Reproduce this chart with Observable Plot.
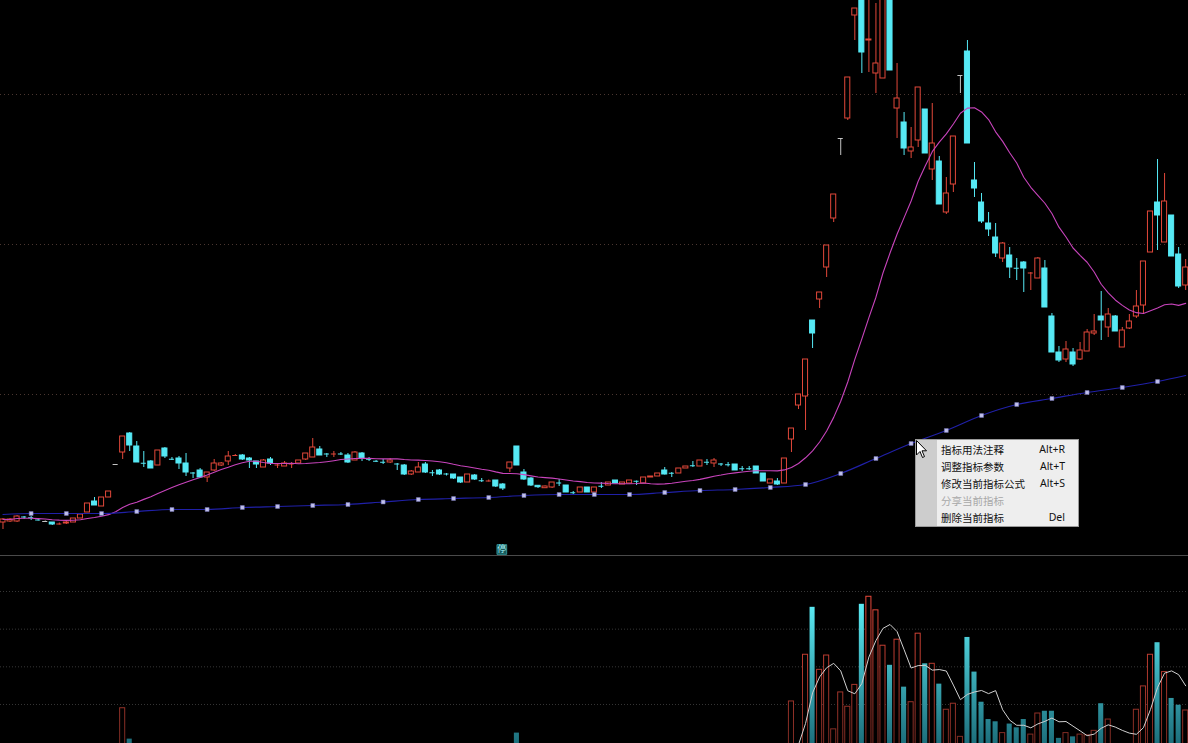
<!DOCTYPE html>
<html><head><meta charset="utf-8">
<script src="https://cdn.jsdelivr.net/npm/d3@7"></script>
<script src="https://cdn.jsdelivr.net/npm/@observablehq/plot@0.6"></script>
<style>
html,body{margin:0;padding:0;background:#000;overflow:hidden;}
#wrap{position:relative;width:1188px;height:743px;background:#000;}
#price svg,#vol svg{display:block;}
#vol{border-top:1px solid #4a4a4a;}
#menu{position:absolute;left:915px;top:439px;width:164px;height:88px;background:#eeeeee;border:1px solid #9a9a9a;box-sizing:border-box;font-family:"Noto Sans CJK SC","Noto Sans",sans-serif;font-size:10.5px;color:#111;padding-top:1px;}
#menu .strip{position:absolute;left:0;top:0;width:21px;height:100%;background:#cdcdcd;}
#menu .row{position:relative;height:17px;line-height:17px;padding-left:25px;padding-right:13px;}
#menu .row .k{position:absolute;right:13px;top:0;font-family:"Noto Sans",sans-serif;}
#menu .row.dis{color:#a8a8a8;}
#cursor{position:absolute;left:916px;top:440px;}
</style></head>
<body><div id="wrap"><div id="price"></div><div id="vol"></div><div id="menu"><div class="strip"></div></div>
<svg id="cursor" width="14" height="20"><path d="M0.5,0.5 L0.5,15 L4,11.5 L6.5,17.5 L8.5,16.6 L6,10.8 L10.5,10.8 Z" fill="#fff" stroke="#000" stroke-width="1"/></svg>
</div>
<script>
// ---- price data (one candle per trading day, index 0..168) ----
const open  = [5.2,5.3,5.3,5.8,5.7,5.5,5.3,5.2,5.0,5.1,5.2,5.6,6.2,7.3,6.8,7.7,11.0,12.2,14.1,12.8,
11.15,11.3,10.9,12.6,11.55,11.6,11.1,10.2,10.4,9.7,10.4,10.9,11.3,11.85,11.9,11.6,11.3,10.7,11.5,10.9,
10.8,11.0,11.1,11.5,11.7,12.5,12.1,12.0,12.1,11.9,11.4,12.1,11.55,11.35,11.25,11.2,11.1,10.9,10.0,10.2,
11.0,10.2,10.4,10.1,10.0,9.7,9.2,9.9,9.4,9.3,9.4,9.0,10.6,12.8,10.2,9.6,8.87,8.63,8.7,9.2,
8.9,8.2,8.2,8.7,8.2,8.85,8.9,9.4,9.0,9.1,9.35,9.1,9.7,9.8,10.4,10.15,10.1,10.6,10.9,10.8,
11.25,11.1,11.1,11.0,11.0,10.6,10.6,10.8,10.1,9.1,9.3,9.1,13.5,16.9,17.8,25.4,27.5,30.7,35.6,43.6,
45.6,55.9,60.0,53.4,50.1,49.6,60.0,46.6,45.2,42.3,43.4,46.5,40.5,41.3,36.2,39.0,49.9,52.3,39.4,37.2,
35.1,33.7,31.6,31.9,30.65,31.2,30.1,29.6,30.6,25.8,22.2,21.5,22.2,21.5,22.3,24.1,25.8,24.7,25.8,22.7,
24.6,25.8,26.9,32.2,37.2,33.2,35.9,32.0,28.9];
const high  = [5.6,5.6,5.9,5.8,5.8,5.55,5.35,5.2,5.15,5.3,5.6,6.0,7.1,7.7,7.7,8.3,11.0,13.8,14.2,13.3,
12.3,11.4,12.4,12.7,11.7,11.8,12.1,10.2,10.6,10.2,11.5,11.2,12.3,12.0,12.0,11.7,11.3,11.5,11.7,11.1,
11.3,11.2,11.4,12.1,13.6,12.8,12.1,12.3,12.2,12.1,12.3,12.2,11.7,11.4,11.5,11.6,11.1,11.0,10.4,11.2,
11.2,10.4,10.5,10.1,10.0,9.7,10.0,10.0,9.6,9.45,9.4,9.1,11.2,12.8,10.5,9.7,8.9,8.85,9.2,9.5,
8.9,8.3,8.7,8.7,8.7,9.2,9.2,9.4,9.2,9.4,9.35,9.7,9.8,10.1,10.7,10.2,10.6,10.8,11.3,11.4,
11.5,11.6,11.1,11.2,11.0,10.8,10.8,10.8,10.1,9.5,9.6,11.6,14.6,18.0,21.5,25.4,28.2,32.9,38.0,43.6,
49.7,56.6,61.0,60.0,57.1,60.5,61.0,51.1,46.2,44.7,48.7,46.5,47.1,41.8,39.7,43.8,49.9,53.4,41.2,38.1,
36.2,35.1,33.2,32.7,31.6,31.3,30.2,31.7,31.4,26.1,22.8,23.3,22.6,23.2,24.5,26.0,28.3,26.6,25.9,24.7,
26.0,28.4,31.3,36.3,41.5,40.1,35.9,32.7,31.5];
const low   = [4.5,5.2,5.2,5.5,5.4,5.35,5.25,4.9,4.95,5.0,5.2,5.6,6.2,6.9,6.8,7.7,11.0,11.5,12.3,11.2,
10.7,10.6,10.9,11.6,11.4,10.5,9.8,9.6,9.6,9.2,10.3,10.8,10.9,11.8,11.4,10.6,10.6,10.7,10.9,10.6,
10.8,10.6,11.1,11.4,11.7,11.9,11.7,11.7,11.9,11.1,11.4,11.3,11.3,11.2,11.0,11.1,10.4,9.9,9.9,10.2,
10.1,9.8,9.9,9.85,9.5,9.1,9.2,9.4,9.2,9.25,8.7,8.4,10.2,10.9,9.4,8.8,8.6,8.6,8.6,8.8,
8.2,8.0,8.2,8.2,8.2,8.6,8.9,9.1,9.0,9.1,8.9,9.1,9.7,9.8,9.95,9.7,10.1,10.6,10.7,10.8,
10.9,10.7,10.8,10.75,10.4,10.3,10.4,10.1,9.3,9.1,8.9,9.1,12.2,16.5,14.4,22.6,26.6,29.7,35.2,41.9,
45.4,53.4,50.1,50.2,48.1,49.6,50.4,43.6,41.9,41.6,42.7,42.1,39.4,37.0,36.0,38.2,48.1,43.1,37.7,35.1,
33.8,31.7,31.2,29.6,29.4,28.2,28.4,29.6,26.7,22.2,21.2,21.2,20.8,21.4,22.3,23.9,23.4,23.7,24.3,22.7,
24.5,25.6,26.1,32.2,32.4,33.2,31.8,28.6,28.4];
const close = [5.5,5.5,5.8,5.7,5.65,5.4,5.3,5.0,5.1,5.2,5.6,6.0,7.1,6.9,7.7,8.3,11.0,13.8,12.9,11.2,
11.1,10.6,12.4,11.8,11.5,11.1,10.2,10.1,9.7,10.2,11.1,11.1,11.8,11.95,11.5,11.4,11.0,11.4,11.1,11.0,
11.1,11.1,11.4,12.1,12.7,11.9,12.0,12.1,12.0,11.2,12.2,11.6,11.5,11.3,11.2,11.4,11.0,10.0,10.3,10.7,
10.2,10.15,10.0,10.0,9.6,9.2,10.0,9.5,9.35,9.4,8.8,8.6,11.2,10.9,9.5,8.9,8.73,8.8,9.2,9.1,
8.2,8.15,8.7,8.2,8.7,8.8,9.2,9.1,9.2,9.4,9.3,9.7,9.8,10.1,10.0,10.1,10.6,10.8,10.85,11.4,
11.2,11.4,11.0,10.95,10.4,10.55,10.55,10.1,9.3,9.5,9.0,11.6,14.6,18.0,21.5,24.1,28.2,32.9,38.0,43.6,
49.7,56.6,52.2,53.5,51.1,59.0,50.4,47.6,42.6,42.7,48.7,42.1,43.1,37.0,38.1,43.8,49.9,43.1,38.6,35.3,
34.5,32.1,33.1,30.7,30.6,30.6,30.2,31.6,26.7,22.2,21.4,22.5,21.0,22.4,24.2,24.3,25.4,26.0,24.3,24.4,
25.3,26.8,31.3,36.3,35.9,37.3,31.8,28.8,30.7];
const volume = [28,25,30,26,24,22,20,24,22,25,30,34,40,38,20,22,18,95,54,30,
25,22,30,28,22,26,32,20,24,26,30,22,28,18,20,22,20,24,22,18,
20,18,20,26,34,28,20,18,16,24,26,22,16,14,15,16,18,22,18,20,
22,16,18,15,18,20,22,18,15,14,20,22,38,62,40,30,20,16,20,22,
24,16,20,18,20,18,16,15,16,18,16,22,18,20,24,18,22,20,24,26,
22,24,18,16,22,18,16,22,28,24,26,40,104,38,166,229,146,165,67,116,
97,126,233,243,225,178,152,186,123,103,194,154,154,127,93,101,57,189,143,103,
80,77,62,74,69,80,60,88,91,91,55,62,57,60,59,65,101,80,45,37,
47,93,124,166,182,143,108,99,92];
// long moving average (blue), read at its marker days
const longMaDay = [0,4,9,14,19,24,29,34,39,44,49,54,59,64,69,74,79,84,89,94,99,104,109,114,119,124,129,134,139,144,149,154,159,164,168];
const longMaVal = [6.0,6.1,6.1,6.1,6.3,6.5,6.5,6.7,6.8,6.9,7.0,7.25,7.5,7.6,7.7,7.9,8.0,8.0,8.0,8.2,8.4,8.5,8.7,9.0,10.1,11.6,13.1,14.4,15.9,17.0,17.6,18.2,18.7,19.3,19.9];
const priceGrid = [18, 33, 48];
const volGrid = [100, 150, 200, 250];
const haltDays = [71];
const haltText = ["停"];
const menuLabels = ["指标用法注释","调整指标参数","修改当前指标公式","分享当前指标","删除当前指标"];
const menuKeys = ["Alt+R","Alt+T","Alt+S","","Del"];
const menuDisabled = [false,false,false,true,false];

// ---- build ----
const UP = "#e2483a", DOWN = "#56e9f5", FLAT = "#c4c4c4";
const candles = d3.range(open.length).map(i => ({i, o: open[i], h: high[i], l: low[i], c: close[i], v: volume[i]}));
const dirOf = d => Math.abs(d.c - d.o) < 0.001 ? "flat" : (d.c > d.o ? "up" : "down");
const col = d => ({up: UP, down: DOWN, flat: FLAT})[dirOf(d)];
const half = 0.36;
const xDomain = [-0.355, 168.4];
const thin = candles.filter(d => Math.abs(d.c - d.o) < 0.1);
const thick = candles.filter(d => Math.abs(d.c - d.o) >= 0.1);
const longMa = longMaDay.map((d, k) => ({i: d, v: longMaVal[k]}));
const longMaMarks = longMa.filter(d => d.i % 5 === 4);

const priceChart = Plot.plot({
  width: 1188, height: 555, margin: 0,
  style: {background: "#000", overflow: "hidden"},
  x: {domain: xDomain, axis: null},
  y: {domain: [1.9, 57.4], axis: null},
  color: {type: "identity"},
  marks: [
    Plot.ruleY(priceGrid, {stroke: "#4a3630", strokeDasharray: "1,3"}),
    Plot.ruleX(candles, {x: "i", y1: "l", y2: "h", stroke: col, clip: true}),
    Plot.rect(thick, {x1: d => d.i - half, x2: d => d.i + half, y1: "o", y2: "c",
      fill: d => dirOf(d) === "down" ? DOWN : "#000", stroke: col, clip: true}),
    Plot.ruleY(thin, {y: d => (d.o + d.c) / 2, x1: d => d.i - half, x2: d => d.i + half, stroke: col, clip: true}),
    Plot.line(candles, Plot.windowY({k: 20, anchor: "end"}, {x: "i", y: "c", stroke: "#c844bc", strokeWidth: 1.1, clip: true})),
    Plot.line(longMa, {x: "i", y: "v", stroke: "#2020a8", strokeWidth: 1.2, curve: "monotone-x"}),
    Plot.dot(longMaMarks, {x: "i", y: "v", symbol: "square", r: 2.2, fill: "#c0c0ea", stroke: "#7a7ac0", strokeWidth: 0.5}),
    Plot.dot(haltDays, {x: d => d, frameAnchor: "bottom", dy: -6, dx: -1, symbol: "square", r: 5.5, fill: "#17595c", stroke: "#3aa6a8", strokeWidth: 0.8}),
    Plot.text(haltDays, {x: d => d, text: (d, k) => haltText[k], frameAnchor: "bottom", dy: -6, dx: -1, fill: "#a8f4f4", fontSize: 9, fontFamily: "Noto Sans CJK SC", lineAnchor: "middle"})
  ]
});
document.getElementById("price").appendChild(priceChart);

const volChart = Plot.plot({
  width: 1188, height: 187, margin: 0,
  style: {background: "#000", overflow: "hidden"},
  x: {domain: xDomain, axis: null},
  y: {domain: [0, 250], range: [223.3, 35], axis: null},
  marks: [
    Plot.ruleY(volGrid, {stroke: "#363636", strokeDasharray: "1,2"}),
    Plot.rect(candles.filter(d => d.c >= d.o), {x1: d => d.i - half, x2: d => d.i + half, y1: 0, y2: "v", fill: "#000", stroke: "url(#volRed)", clip: true}),
    Plot.rect(candles.filter(d => d.c < d.o), {x1: d => d.i - half, x2: d => d.i + half, y1: 0, y2: "v", fill: "url(#volCyan)", clip: true}),
    Plot.line(candles, Plot.windowY({k: 5, anchor: "end"}, {x: "i", y: "v", stroke: "#d0d0d0", strokeWidth: 1, clip: true}))
  ]
});
const defs = d3.select(volChart).insert("defs", ":first-child");
const g1 = defs.append("linearGradient").attr("id", "volCyan").attr("gradientUnits", "userSpaceOnUse").attr("x1", 0).attr("x2", 0).attr("y1", 40).attr("y2", 187);
g1.append("stop").attr("offset", 0).attr("stop-color", "#5ef2fb");
g1.append("stop").attr("offset", 1).attr("stop-color", "#1d6f7c");
const g2 = defs.append("linearGradient").attr("id", "volRed").attr("gradientUnits", "userSpaceOnUse").attr("x1", 0).attr("x2", 0).attr("y1", 40).attr("y2", 187);
g2.append("stop").attr("offset", 0).attr("stop-color", "#e8483a");
g2.append("stop").attr("offset", 1).attr("stop-color", "#7a2a22");
document.getElementById("vol").appendChild(volChart);

const menu = document.getElementById("menu");
menuLabels.forEach((t, k) => {
  const r = document.createElement("div");
  r.className = "row" + (menuDisabled[k] ? " dis" : "");
  r.textContent = t;
  const s = document.createElement("span");
  s.className = "k"; s.textContent = menuKeys[k];
  r.appendChild(s);
  menu.appendChild(r);
});
</script></body></html>
